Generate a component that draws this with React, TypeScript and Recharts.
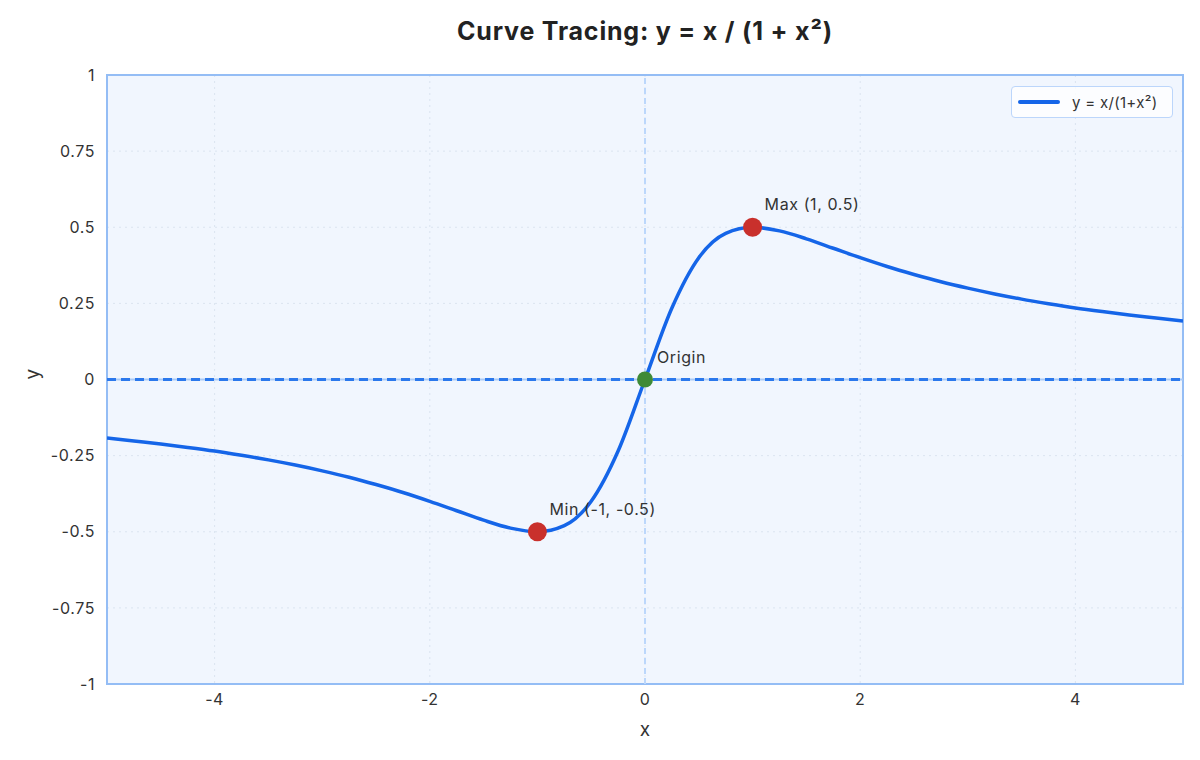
import React from 'react'
import { ComposedChart, Line, Scatter, XAxis, YAxis, CartesianGrid, ReferenceLine, ReferenceArea } from 'recharts'

const xValues = [
  -5, -4.75, -4.5, -4.25, -4, -3.75, -3.5, -3.25, -3, -2.75, -2.5, -2.25, -2, -1.75, -1.5, -1.25, -1, -0.75, -0.5, -0.25,
  0, 0.25, 0.5, 0.75, 1, 1.25, 1.5, 1.75, 2, 2.25, 2.5, 2.75, 3, 3.25, 3.5, 3.75, 4, 4.25, 4.5, 4.75, 5,
]
const yValues = [
  -0.192, -0.202, -0.212, -0.223, -0.235, -0.249, -0.264, -0.281, -0.3, -0.321, -0.345, -0.371, -0.4, -0.431, -0.462,
  -0.488, -0.5, -0.48, -0.4, -0.235, 0, 0.235, 0.4, 0.48, 0.5, 0.488, 0.462, 0.431, 0.4, 0.371, 0.345, 0.321, 0.3, 0.281,
  0.264, 0.249, 0.235, 0.223, 0.212, 0.202, 0.192,
]

const markerX = [1, -1, 0]
const markerY = [0.5, -0.5, 0]
const markerLabels = ['Max (1, 0.5)', 'Min (-1, -0.5)', 'Origin']
const markerKinds = ['extremum', 'extremum', 'origin']

const xTicks = [-4, -2, 0, 2, 4]
const yTicks = [-1, -0.75, -0.5, -0.25, 0, 0.25, 0.5, 0.75, 1]

const FONT = 'Inter, "Noto Sans", sans-serif'
const CURVE = '#1565e8'
const TICK = { fill: '#333', fontSize: 16, fontFamily: FONT, letterSpacing: 0.6 }

const curve = xValues.map((x, i) => ({ x, y: yValues[i] }))
const markers = markerX.map((x, i) => ({ x, y: markerY[i], label: markerLabels[i], kind: markerKinds[i] }))

function MarkerShape(props: any) {
  const { cx, cy, payload } = props
  const isOrigin = payload.kind === 'origin'
  return (
    <g>
      <circle cx={cx} cy={cy} r={isOrigin ? 8 : 9.5} fill={isOrigin ? '#3f8a36' : '#c9302c'} />
      <text x={cx + 12} y={cy - 17} fontSize={16} letterSpacing={0.6} fill="#333" fontFamily={FONT}>
        {payload.label}
      </text>
    </g>
  )
}

function LegendBox() {
  return (
    <div
      style={{
        position: 'absolute',
        left: 1011,
        top: 86,
        display: 'flex',
        alignItems: 'center',
        width: 162,
        height: 32,
        border: '1.5px solid #bcd6fb',
        borderRadius: 4,
        background: 'rgba(255,255,255,0.8)',
        fontFamily: FONT,
        fontSize: 15,
        letterSpacing: 0.3,
        color: '#333',
        boxSizing: 'border-box',
      }}
    >
      <span style={{ display: 'inline-block', width: 42, height: 4, background: CURVE, borderRadius: 2, marginLeft: 6, marginRight: 12 }} />
      <span>y = x/(1+x²)</span>
    </div>
  )
}

export default function App() {
  return (
    <div style={{ position: 'absolute', left: 0, top: 0, width: 1200, height: 760, background: '#fff' }}>
      <div
        style={{
          position: 'absolute',
          left: 107,
          width: 1076,
          top: 16,
          textAlign: 'center',
          fontFamily: FONT,
          fontWeight: 700,
          fontSize: 25,
          letterSpacing: 0.8,
          color: '#222',
        }}
      >
        Curve Tracing: y = x / (1 + x²)
      </div>
      <ComposedChart width={1200} height={760} margin={{ top: 75, right: 17, left: 47, bottom: 26 }}>
        <CartesianGrid fill="#f1f6fe" stroke="#dbe4f0" strokeDasharray="2 4" verticalValues={xTicks} horizontalValues={yTicks} />
        <XAxis
          dataKey="x"
          type="number"
          domain={[-5, 5]}
          ticks={xTicks}
          allowDataOverflow
          axisLine={false}
          tickLine={false}
          height={50}
          tick={TICK}
          tickMargin={4}
          label={{ value: 'x', position: 'insideBottom', offset: -2, fill: '#333', fontSize: 19, fontFamily: FONT }}
        />
        <YAxis
          dataKey="y"
          type="number"
          domain={[-1, 1]}
          ticks={yTicks}
          allowDataOverflow
          axisLine={false}
          tickLine={false}
          width={60}
          tick={TICK}
          tickMargin={6}
          label={{ value: 'y', angle: -90, position: 'insideLeft', offset: -15, fill: '#333', fontSize: 19, fontFamily: FONT }}
        />
        <ReferenceLine x={0} stroke="#bcd7fb" strokeWidth={2} strokeDasharray="6 4" />
        <ReferenceLine y={0} stroke="#a9c9f6" strokeWidth={2} />
        <ReferenceLine y={0} stroke="#2b78ec" strokeWidth={3} strokeDasharray="9 5" />
        <Line
          data={curve}
          dataKey="y"
          type="monotone"
          stroke={CURVE}
          strokeWidth={3.5}
          dot={false}
          activeDot={false}
          isAnimationActive={false}
          name="y = x/(1+x²)"
        />
        <Scatter data={markers} dataKey="y" shape={<MarkerShape />} isAnimationActive={false} legendType="none" />
        <ReferenceArea x1={-5} x2={5} y1={-1} y2={1} fill="none" stroke="#94bdf5" strokeWidth={2} />
      </ComposedChart>
      <LegendBox />
    </div>
  )
}
